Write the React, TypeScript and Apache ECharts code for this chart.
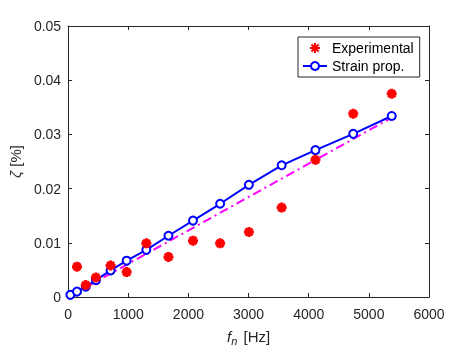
import React, { useEffect, useRef } from "react";
import * as echarts from "echarts";

const freqs = [37, 147, 293, 462, 706, 973, 1300, 1668, 2076, 2527, 3005, 3550, 4112, 4740, 5380];
const strainProp = [0.0004, 0.001, 0.0019, 0.0031, 0.0049, 0.0067, 0.0087, 0.0113, 0.0141, 0.0172, 0.0207, 0.0243, 0.0271, 0.0301, 0.0334];
const expFreqs = [147, 293, 462, 706, 973, 1300, 1668, 2076, 2527, 3005, 3550, 4112, 4740, 5380];
const experimental = [0.0056, 0.0022, 0.0036, 0.0058, 0.0046, 0.0099, 0.0074, 0.0104, 0.0099, 0.012, 0.0165, 0.0253, 0.0338, 0.0375];
const fitFreqs = [37, 5380];
const fitValues = [0.0002, 0.0331];
const xTicks = [0, 1000, 2000, 3000, 4000, 5000, 6000];
const yTicks = [0, 0.01, 0.02, 0.03, 0.04, 0.05];

const FONT = "Liberation Sans";
const TXT = "#262626";
const STAR = "path://M5,0L5,10M0,5L10,5M1.5,1.5L8.5,8.5M1.5,8.5L8.5,1.5";

export default function App() {
  const ref = useRef<HTMLDivElement>(null);
  useEffect(() => {
    if (!ref.current) return;
    const chart = echarts.init(ref.current, undefined, { renderer: "svg" });
    const axisLine = { show: true, onZero: false, lineStyle: { color: TXT, width: 1 } };
    const tick = { show: true, inside: true, length: 4, lineStyle: { color: TXT } };
    const xBase = {
      type: "value" as const,
      min: xTicks[0],
      max: xTicks[xTicks.length - 1],
      interval: xTicks[1] - xTicks[0],
      axisLine,
      axisTick: tick,
      splitLine: { show: false },
    };
    const yBase = {
      type: "value" as const,
      min: yTicks[0],
      max: yTicks[yTicks.length - 1],
      interval: yTicks[1] - yTicks[0],
      axisLine,
      axisTick: tick,
      splitLine: { show: false },
    };
    chart.setOption({
      animation: false,
      textStyle: { fontFamily: FONT },
      grid: { left: 61, top: 26, width: 368, height: 271, containLabel: false },
      legend: {
        data: ["Experimental", "Strain prop."],
        orient: "vertical",
        left: 298,
        top: 37,
        padding: [4, 6, 4, 4],
        itemWidth: 24,
        itemHeight: 10,
        itemGap: 4,
        borderColor: TXT,
        borderWidth: 1,
        backgroundColor: "#fff",
        textStyle: { fontSize: 14, color: "#000", fontFamily: FONT },
      },
      xAxis: [
        {
          ...xBase,
          position: "bottom",
          axisLabel: { fontSize: 14, color: TXT, margin: 10, fontFamily: FONT, formatter: (v: number) => String(v) },
          name: "{i|f}{s|n} [Hz]",
          nameLocation: "middle",
          nameGap: 29,
          nameTextStyle: {
            fontSize: 15,
            color: TXT,
            fontFamily: FONT,
            rich: {
              i: { fontSize: 15, fontStyle: "italic", color: TXT, fontFamily: FONT },
              s: { fontSize: 11, fontStyle: "italic", color: TXT, fontFamily: FONT, padding: [9, 2, 0, 0] },
            },
          },
        },
        { ...xBase, position: "top", axisLabel: { show: false } },
      ],
      yAxis: [
        {
          ...yBase,
          position: "left",
          axisLabel: {
            fontSize: 14,
            color: TXT,
            margin: 7,
            fontFamily: FONT,
            formatter: (v: number) => (v === 0 ? "0" : v.toFixed(2)),
          },
          name: "{i|ζ} [%]",
          nameLocation: "middle",
          nameGap: 37,
          nameTextStyle: {
            fontSize: 15,
            color: TXT,
            fontFamily: FONT,
            rich: { i: { fontSize: 15, fontStyle: "italic", color: TXT, fontFamily: FONT } },
          },
        },
        { ...yBase, position: "right", axisLabel: { show: false } },
      ],
      series: [
        {
          name: "fit",
          type: "line",
          data: fitFreqs.map((f, i) => [f, fitValues[i]]),
          showSymbol: false,
          symbol: "none",
          lineStyle: { color: "#ff00ff", width: 2, type: [9, 4, 2, 4] },
          z: 2,
        },
        {
          name: "Strain prop.",
          type: "line",
          data: freqs.map((f, i) => [f, strainProp[i]]),
          symbol: "circle",
          symbolSize: 8,
          lineStyle: { color: "#0000ff", width: 2 },
          itemStyle: { color: "#fff", borderColor: "#0000ff", borderWidth: 2 },
          z: 3,
        },
        {
          name: "Experimental",
          type: "scatter",
          data: expFreqs.map((f, i) => [f, experimental[i]]),
          symbol: STAR,
          symbolSize: 10,
          itemStyle: { color: "#ff0000", borderColor: "#ff0000", borderWidth: 3, opacity: 1 },
          z: 4,
        },
      ],
    });
    return () => chart.dispose();
  }, []);
  return <div ref={ref} style={{ position: "fixed", left: 0, top: 0, width: 474, height: 355 }} />;
}
